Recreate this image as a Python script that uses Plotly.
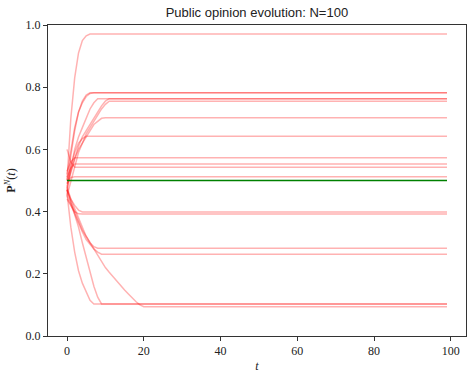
import plotly.graph_objects as go

# Opinion trajectories: values at t = 0,1,2,... until the plateau, then held to t = 99
series_values = [
    [0.50, 0.70, 0.83, 0.91, 0.95, 0.965, 0.971],
    [0.47, 0.58, 0.66, 0.72, 0.755, 0.775, 0.782],
    [0.52, 0.60, 0.67, 0.72, 0.75, 0.77, 0.78, 0.782],
    [0.46, 0.54, 0.60, 0.64, 0.67, 0.70, 0.73, 0.75, 0.763],
    [0.49, 0.53, 0.57, 0.61, 0.64, 0.66, 0.68, 0.70, 0.72, 0.74, 0.755, 0.763],
    [0.45, 0.50, 0.55, 0.59, 0.62, 0.65, 0.67, 0.69, 0.71, 0.73, 0.745, 0.755],
    [0.48, 0.53, 0.57, 0.60, 0.62, 0.64, 0.66, 0.68, 0.69, 0.70, 0.702],
    [0.50, 0.55, 0.59, 0.62, 0.635, 0.642],
    [0.53, 0.56, 0.573],
    [0.51, 0.54, 0.553],
    [0.60, 0.56, 0.543],
    [0.49, 0.51, 0.512],
    [0.47, 0.44, 0.42, 0.405, 0.399],
    [0.44, 0.42, 0.40, 0.393, 0.392],
    [0.47, 0.43, 0.40, 0.37, 0.34, 0.32, 0.30, 0.287, 0.282],
    [0.45, 0.42, 0.39, 0.36, 0.335, 0.31, 0.295, 0.28, 0.27, 0.263],
    [0.46, 0.35, 0.27, 0.21, 0.17, 0.14, 0.115, 0.103],
    [0.47, 0.43, 0.39, 0.35, 0.30, 0.25, 0.20, 0.16, 0.125, 0.103],
    [0.48, 0.44, 0.41, 0.38, 0.35, 0.32, 0.30, 0.28, 0.26, 0.24, 0.22,
     0.205, 0.19, 0.175, 0.16, 0.148, 0.135, 0.122, 0.11, 0.10, 0.094],
]
last_step = 99
mean_level = 0.5
x_ticks = [0, 20, 40, 60, 80, 100]
y_ticks = [0.0, 0.2, 0.4, 0.6, 0.8, 1.0]

fig = go.Figure()
for vals in series_values:
    xs = list(range(len(vals))) + [last_step]
    ys = vals + [vals[-1]]
    fig.add_trace(go.Scatter(x=xs, y=ys, mode="lines",
                             line=dict(color="rgba(255,0,0,0.3)", width=1.5),
                             showlegend=False, hoverinfo="skip"))
fig.add_trace(go.Scatter(x=[0, last_step], y=[mean_level, mean_level], mode="lines",
                         line=dict(color="#008000", width=1.5), showlegend=False))

axis_common = dict(showline=True, linecolor="#333333", linewidth=1, mirror=True,
                   ticks="outside", ticklen=4, tickcolor="#333333", showgrid=False,
                   zeroline=False, automargin=False,
                   tickfont=dict(family="Liberation Serif, DejaVu Serif, serif", size=12, color="#222222"))
fig.update_layout(
    width=474, height=378,
    margin=dict(l=48, r=8, t=25, b=42),
    paper_bgcolor="white", plot_bgcolor="white",
    title=dict(text="Public opinion evolution: N=100", x=0.542, xanchor="center",
               y=0.967, yanchor="middle",
               font=dict(family="Liberation Sans, Arial, sans-serif", size=13, color="#222222")),
    xaxis=dict(range=[-4.95, 103.95], tickvals=x_ticks,
               title=dict(text="<i>t</i>", standoff=4,
                          font=dict(family="Liberation Serif, serif", size=12, color="#222222")),
               **axis_common),
    yaxis=dict(range=[0, 1], tickvals=y_ticks, tickformat=".1f",
               title=dict(text="<b>P</b><sup><i>N</i></sup>(<i>t</i>)", standoff=7,
                          font=dict(family="Liberation Serif, serif", size=12, color="#222222")),
               **axis_common),
)
fig.write_html("out.html", config={"displayModeBar": False},
               post_script="document.body.style.margin='0';")
